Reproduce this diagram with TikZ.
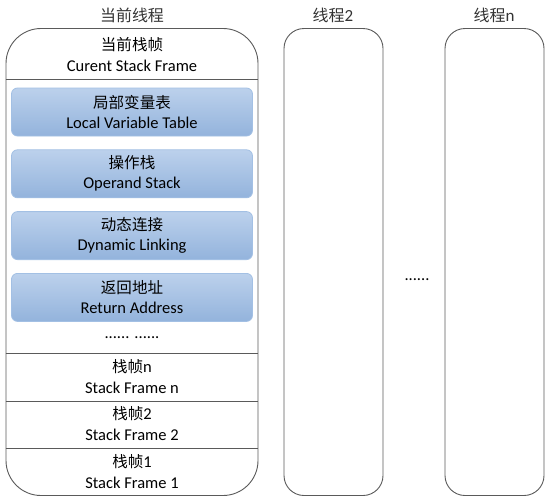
\documentclass[tikz,border=0pt]{standalone}
\usepackage{fontspec}
\setmainfont{Carlito}
\newfontfamily\cjk[Scale=0.94]{Noto Sans CJK SC}
\usetikzlibrary{positioning}

\definecolor{boxtop}{HTML}{BCD1EC}
\definecolor{boxbot}{HTML}{93B3DC}
\definecolor{boxline}{HTML}{A3C0E4}
\definecolor{edgegray}{HTML}{5A5A5A}

\begin{document}
\begin{tikzpicture}[
	x=1pt, y=-1pt,
	node distance=13pt,
	% --- Styles ---
	thread/.style={
		rectangle, draw=edgegray, line width=0.9pt, fill=white,
		minimum width=99pt, minimum height=467pt, rounded corners=20pt
	},
	title/.style={
		font=\fontsize{17}{20}\selectfont, text=black!80
	},
	part/.style={
		rectangle, rounded corners=6pt, draw=boxline, line width=0.8pt,
		top color=boxtop, bottom color=boxbot,
		minimum width=241pt, minimum height=48pt, align=center,
		font=\fontsize{16.5}{20}\selectfont, inner sep=0pt
	},
	txt/.style={
		align=center, font=\fontsize{16.5}{21}\selectfont, inner sep=0pt
	},
	divline/.style={
		draw=edgegray, line width=0.8pt
	}
	]
	\useasboundingbox (0,0) rectangle (554,501);
	
	% --- 1. Current thread ---
	\node [thread, minimum width=252pt, rounded corners=35pt] (thread1) at (132,262) {};
	\node [title] (t1label) at (132,15) {{\cjk 当前线程}};
	
	% section borders
	\coordinate (sep1) at (0,79);
	\coordinate (sep2) at (0,353);
	\coordinate (sep3) at (0,401);
	\coordinate (sep4) at (0,448);
	\foreach \s in {sep1,sep2,sep3,sep4}
		\draw [divline] (thread1.west |- \s) -- (thread1.east |- \s);
	
	% current frame
	\node [txt] (curframe) at (132,55) {{\cjk 当前栈帧}\\Curent Stack Frame};
	
	% --- 2. Parts of the current frame ---
	\node [part] (locals) at (132,112) {{\cjk 局部变量表}\\Local Variable Table};
	\node [part, below=of locals] (opstack) {{\cjk 操作栈}\\Operand Stack};
	\node [part, below=of opstack] (dynlink) {{\cjk 动态连接}\\Dynamic Linking};
	\node [part, below=of dynlink] (retaddr) {{\cjk 返回地址}\\Return Address};
	\node [txt] (moreparts) at (132,338) {...... ......};
	
	% --- 3. Older frames ---
	\node [txt] (framen) at (132,377) {{\cjk 栈帧}n\\Stack Frame n};
	\node [txt] (frame2) at (132,424) {{\cjk 栈帧}2\\Stack Frame 2};
	\node [txt] (frame1) at (132,472) {{\cjk 栈帧}1\\Stack Frame 1};
	
	% --- 4. Other threads ---
	\node [thread] (thread2) at (333.5,262) {};
	\node [title] (t2label) at (333,15) {{\cjk 线程}2};
	\node [txt] (morethreads) at (417,280) {......};
	\node [thread] (threadn) at (494.5,262) {};
	\node [title] (tnlabel) at (494,15) {{\cjk 线程}n};
	
\end{tikzpicture}
\end{document}
